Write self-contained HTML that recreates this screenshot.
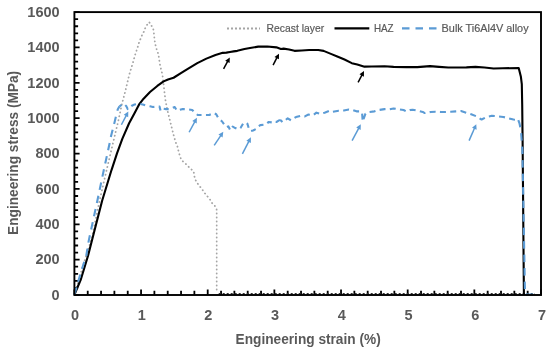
<!DOCTYPE html>
<html><head><meta charset="utf-8"><title>Engineering stress-strain curves</title><style>
html,body{margin:0;padding:0;background:#fff;}
svg{display:block;}
text{font-family:"Liberation Sans",Arial,sans-serif;fill:#595959;}
</style></head><body>
<svg width="550" height="353" viewBox="0 0 550 353">
<rect x="0" y="0" width="550" height="353" fill="#fff"/>

<path d="M74.40 295.00H79.60M74.40 287.93H78.10M74.40 280.86H78.10M74.40 273.78H78.10M74.40 266.71H78.10M74.40 259.64H79.60M74.40 252.56H78.10M74.40 245.49H78.10M74.40 238.42H78.10M74.40 231.35H78.10M74.40 224.28H79.60M74.40 217.20H78.10M74.40 210.13H78.10M74.40 203.06H78.10M74.40 195.99H78.10M74.40 188.91H79.60M74.40 181.84H78.10M74.40 174.77H78.10M74.40 167.70H78.10M74.40 160.62H78.10M74.40 153.55H79.60M74.40 146.48H78.10M74.40 139.41H78.10M74.40 132.33H78.10M74.40 125.26H78.10M74.40 118.19H79.60M74.40 111.12H78.10M74.40 104.04H78.10M74.40 96.97H78.10M74.40 89.90H78.10M74.40 82.82H79.60M74.40 75.75H78.10M74.40 68.68H78.10M74.40 61.61H78.10M74.40 54.54H78.10M74.40 47.46H79.60M74.40 40.39H78.10M74.40 33.32H78.10M74.40 26.25H78.10M74.40 19.17H78.10M74.40 12.10H79.60M74.40 295.00V289.40M87.73 295.00V290.80M101.06 295.00V290.80M114.39 295.00V290.80M127.73 295.00V290.80M141.06 295.00V289.40M154.39 295.00V290.80M167.72 295.00V290.80M181.05 295.00V290.80M194.38 295.00V290.80M207.71 295.00V289.40M221.05 295.00V290.80M234.38 295.00V290.80M247.71 295.00V290.80M261.04 295.00V290.80M274.37 295.00V289.40M287.70 295.00V290.80M301.03 295.00V290.80M314.37 295.00V290.80M327.70 295.00V290.80M341.03 295.00V289.40M354.36 295.00V290.80M367.69 295.00V290.80M381.02 295.00V290.80M394.35 295.00V290.80M407.69 295.00V289.40M421.02 295.00V290.80M434.35 295.00V290.80M447.68 295.00V290.80M461.01 295.00V290.80M474.34 295.00V289.40M487.67 295.00V290.80M501.01 295.00V290.80M514.34 295.00V290.80M527.67 295.00V290.80M541.00 295.00V289.40" stroke="#000" stroke-width="1.8" fill="none"/>
<polyline points="74.40,294.75 84.00,262.45 92.00,237.45 99.60,200.45 106.50,170.45 114.10,138.45 118.40,120.45 121.80,104.45 125.50,90.45 129.30,74.45 133.00,62.45 135.60,53.10 137.00,49.30 138.10,45.70 139.20,42.10 140.70,38.40 142.10,35.00 143.80,31.80 145.10,28.40 146.90,25.00 149.20,22.10 151.10,25.30 153.10,27.90 153.70,31.80 154.20,35.50 154.50,39.50 155.10,43.50 156.00,47.10 157.10,50.80 158.30,53.70 160.20,65.95 162.40,74.45 163.60,84.45 164.50,92.65 165.50,100.45 167.50,110.65 170.40,122.25 173.30,133.95 175.50,141.75 177.10,145.25 178.00,148.75 178.80,152.55 180.10,156.35 181.30,159.85 183.90,162.35 186.40,164.45 189.00,167.25 191.50,169.55 193.70,171.75 194.30,175.95 195.20,179.35 196.90,182.55 199.10,185.45 201.40,188.45 203.60,191.35 205.70,194.55 208.20,197.25 210.30,199.95 212.10,203.15 214.80,205.75 216.60,209.05 216.70,212.45 216.70,292.95" fill="none" stroke="#a5a5a5" stroke-width="1.8" stroke-dasharray="0.2 3.8" stroke-linecap="round" stroke-linejoin="round"/>
<line x1="218.70" y1="293.90" x2="535" y2="293.90" stroke="#333" stroke-width="1.7" stroke-dasharray="2 2"/>
<polyline points="74.40,294.75 80.90,279.25 88.10,255.45 95.00,228.45 102.20,200.45 111.50,170.05 117.00,153.45 122.30,138.95 129.10,123.25 134.50,113.15 139.10,104.45 143.60,98.65 150.00,92.05 157.30,85.95 163.60,81.35 168.00,79.45 173.60,77.75 180.90,73.15 188.20,68.65 197.30,63.15 206.40,58.65 215.50,54.95 222.70,52.85 226.40,52.65 230.00,51.95 233.60,51.35 237.30,50.85 244.50,48.95 250.00,48.05 258.20,46.65 267.30,46.45 276.40,47.35 280.90,48.95 283.60,48.65 289.10,49.55 294.50,50.85 301.80,50.45 309.10,49.95 318.20,49.95 323.60,50.85 330.90,53.85 337.30,56.45 344.50,59.55 351.80,63.15 357.30,64.45 364.50,66.65 371.80,66.45 384.50,66.25 393.60,66.85 406.40,67.15 417.30,67.15 430.00,66.15 439.10,66.85 448.20,67.55 466.40,67.35 475.50,66.85 484.50,67.55 493.60,68.45 502.70,68.25 518.70,68.05 520.90,76.85 521.80,84.05 522.20,104.45 522.60,140.45 523.90,294.95" fill="none" stroke="#000" stroke-width="2.1" stroke-linejoin="round"/>
<polyline points="74.40,294.75 77.40,284.05 82.10,268.55 86.30,255.45 88.80,240.45 97.40,200.45 103.50,171.45 109.70,142.85 111.00,136.25 114.50,122.45 115.80,116.95 117.70,109.55 119.50,106.35" fill="none" stroke="#5B9BD5" stroke-width="2.1" stroke-dasharray="7.5 6" stroke-dashoffset="0.0" stroke-linejoin="round"/>
<polyline points="119.50,106.35 122.70,104.05 124.10,103.95 126.40,106.35 127.70,109.05 129.50,107.65 131.40,105.95 134.50,104.55 137.30,104.05 140.00,103.95 142.70,104.55 145.50,105.45 150.00,106.25 152.90,106.95 159.50,106.45 160.60,110.95 163.00,108.65 166.00,109.15 168.90,109.15 174.70,106.95 176.90,110.65 182.00,109.15 186.40,109.15 192.20,109.95 194.50,112.35 197.70,114.95 201.50,114.95 206.00,114.95 209.20,114.95 213.60,112.95 216.20,114.25 218.70,118.75 221.90,121.25 225.10,125.75 226.40,127.15 228.30,126.35 230.30,130.25 232.70,126.65 235.30,128.05 238.00,129.25 240.50,127.95 243.50,122.95 245.10,122.45 247.40,123.75 249.20,129.55 251.00,131.05 253.00,130.45 257.10,128.45 258.70,126.25 260.30,125.15 263.60,124.65 266.90,124.05 268.50,121.95 272.30,122.45 273.40,121.35 276.70,121.95 279.00,120.45 280.10,119.65" fill="none" stroke="#5B9BD5" stroke-width="2.1" stroke-dasharray="5 4.4" stroke-dashoffset="2.4" stroke-linejoin="round"/>
<polyline points="280.10,119.65 282.60,122.15 287.70,118.35 290.90,120.25 296.00,117.05 300.50,115.85 304.90,116.45 308.10,114.55 313.20,115.15 316.40,112.65 320.80,113.95 324.60,112.65 329.70,110.75 332.90,111.75 338.60,110.75 343.80,110.55 348.90,109.45 352.70,110.05 356.50,111.35 360.40,111.35 362.10,112.95 362.70,121.45 365.50,113.65 369.30,111.95 374.40,111.35 378.20,110.05 384.50,109.15 388.40,109.45 393.50,108.45 398.50,109.15 403.60,110.05 406.20,111.35 410.00,110.05 412.60,109.75 417.70,110.75 422.80,111.95 424.70,113.05 430.50,111.95 435.50,111.75 440.60,111.95 445.70,111.95 450.80,111.75 455.90,111.35 461.00,110.95 466.10,112.65 471.20,114.25 476.50,116.35 481.60,119.55 486.70,116.95 491.80,115.75 498.20,116.35 503.30,116.95 508.40,118.25 513.50,119.55 518.30,120.05" fill="none" stroke="#5B9BD5" stroke-width="2.1" stroke-dasharray="6 4.3" stroke-dashoffset="2.7" stroke-linejoin="round"/>
<polyline points="518.30,120.05 519.50,123.35 521.00,130.95 522.40,150.45 525.00,294.45 536.00,294.45" fill="none" stroke="#5B9BD5" stroke-width="2.1" stroke-dasharray="7.5 6" stroke-dashoffset="0.0" stroke-linejoin="round"/>
<line x1="121.40" y1="124.75" x2="126.45" y2="115.09" stroke="#5B9BD5" stroke-width="1.5"/><polygon points="128.30,111.55 128.20,117.14 123.77,114.82" fill="#5B9BD5"/>
<line x1="189.10" y1="132.25" x2="194.99" y2="121.37" stroke="#5B9BD5" stroke-width="1.5"/><polygon points="196.90,117.85 196.72,123.44 192.32,121.06" fill="#5B9BD5"/>
<line x1="214.20" y1="145.45" x2="221.08" y2="135.17" stroke="#5B9BD5" stroke-width="1.5"/><polygon points="223.30,131.85 222.60,137.40 218.44,134.62" fill="#5B9BD5"/>
<line x1="242.40" y1="153.95" x2="249.08" y2="140.91" stroke="#5B9BD5" stroke-width="1.5"/><polygon points="250.90,137.35 250.85,142.94 246.40,140.66" fill="#5B9BD5"/>
<line x1="352.10" y1="140.65" x2="358.92" y2="127.88" stroke="#5B9BD5" stroke-width="1.5"/><polygon points="360.80,124.35 360.65,129.94 356.24,127.58" fill="#5B9BD5"/>
<line x1="469.10" y1="140.65" x2="474.70" y2="127.82" stroke="#5B9BD5" stroke-width="1.5"/><polygon points="476.30,124.15 476.59,129.73 472.01,127.73" fill="#5B9BD5"/>
<line x1="223.60" y1="68.85" x2="227.89" y2="60.96" stroke="#000" stroke-width="1.5"/><polygon points="229.80,57.45 229.61,63.04 225.21,60.65" fill="#000"/>
<line x1="273.10" y1="65.15" x2="277.17" y2="57.21" stroke="#000" stroke-width="1.5"/><polygon points="279.00,53.65 278.94,59.24 274.49,56.96" fill="#000"/>
<line x1="358.10" y1="82.35" x2="362.15" y2="74.60" stroke="#000" stroke-width="1.5"/><polygon points="364.00,71.05 363.90,76.64 359.47,74.33" fill="#000"/>
<rect x="74.40" y="12.10" width="466.60" height="282.90" fill="none" stroke="#000" stroke-width="1.9"/>
<text x="59.6" y="299.7" text-anchor="end" font-size="14.5" font-weight="bold">0</text>
<text x="59.6" y="264.4" text-anchor="end" font-size="14.5" font-weight="bold">200</text>
<text x="59.6" y="229.0" text-anchor="end" font-size="14.5" font-weight="bold">400</text>
<text x="59.6" y="193.7" text-anchor="end" font-size="14.5" font-weight="bold">600</text>
<text x="59.6" y="158.3" text-anchor="end" font-size="14.5" font-weight="bold">800</text>
<text x="59.6" y="123.0" text-anchor="end" font-size="14.5" font-weight="bold">1000</text>
<text x="59.6" y="87.6" text-anchor="end" font-size="14.5" font-weight="bold">1200</text>
<text x="59.6" y="52.3" text-anchor="end" font-size="14.5" font-weight="bold">1400</text>
<text x="59.6" y="16.9" text-anchor="end" font-size="14.5" font-weight="bold">1600</text>
<text x="75.0" y="320.3" text-anchor="middle" font-size="14.5" font-weight="bold">0</text>
<text x="141.7" y="320.3" text-anchor="middle" font-size="14.5" font-weight="bold">1</text>
<text x="208.4" y="320.3" text-anchor="middle" font-size="14.5" font-weight="bold">2</text>
<text x="275.1" y="320.3" text-anchor="middle" font-size="14.5" font-weight="bold">3</text>
<text x="341.9" y="320.3" text-anchor="middle" font-size="14.5" font-weight="bold">4</text>
<text x="408.6" y="320.3" text-anchor="middle" font-size="14.5" font-weight="bold">5</text>
<text x="475.3" y="320.3" text-anchor="middle" font-size="14.5" font-weight="bold">6</text>
<text x="542.0" y="320.3" text-anchor="middle" font-size="14.5" font-weight="bold">7</text>
<text x="235.6" y="343.9" font-size="14" font-weight="bold" textLength="145.1" lengthAdjust="spacingAndGlyphs">Engineering strain (%)</text>
<text transform="translate(18.4,234.9) rotate(-90)" x="0" y="0" font-size="14" font-weight="bold" textLength="164.0" lengthAdjust="spacingAndGlyphs">Engineering stress (MPa)</text>
<line x1="227" y1="28.4" x2="260" y2="28.4" stroke="#a5a5a5" stroke-width="2" stroke-dasharray="2 2"/>
<text x="266.6" y="31.9" font-size="11.5" stroke="#595959" stroke-width="0.2" textLength="57.5" lengthAdjust="spacingAndGlyphs">Recast layer</text>
<line x1="334.5" y1="28.4" x2="369.3" y2="28.4" stroke="#000" stroke-width="2.1"/>
<text x="373.9" y="31.9" font-size="11.5" stroke="#595959" stroke-width="0.2" textLength="19.7" lengthAdjust="spacingAndGlyphs">HAZ</text>
<line x1="402" y1="28.4" x2="437" y2="28.4" stroke="#5B9BD5" stroke-width="2.1" stroke-dasharray="7.5 6"/>
<text x="441.6" y="31.9" font-size="11.5" stroke="#595959" stroke-width="0.2" textLength="87" lengthAdjust="spacingAndGlyphs">Bulk Ti6Al4V alloy</text>
</svg>
</body></html>
